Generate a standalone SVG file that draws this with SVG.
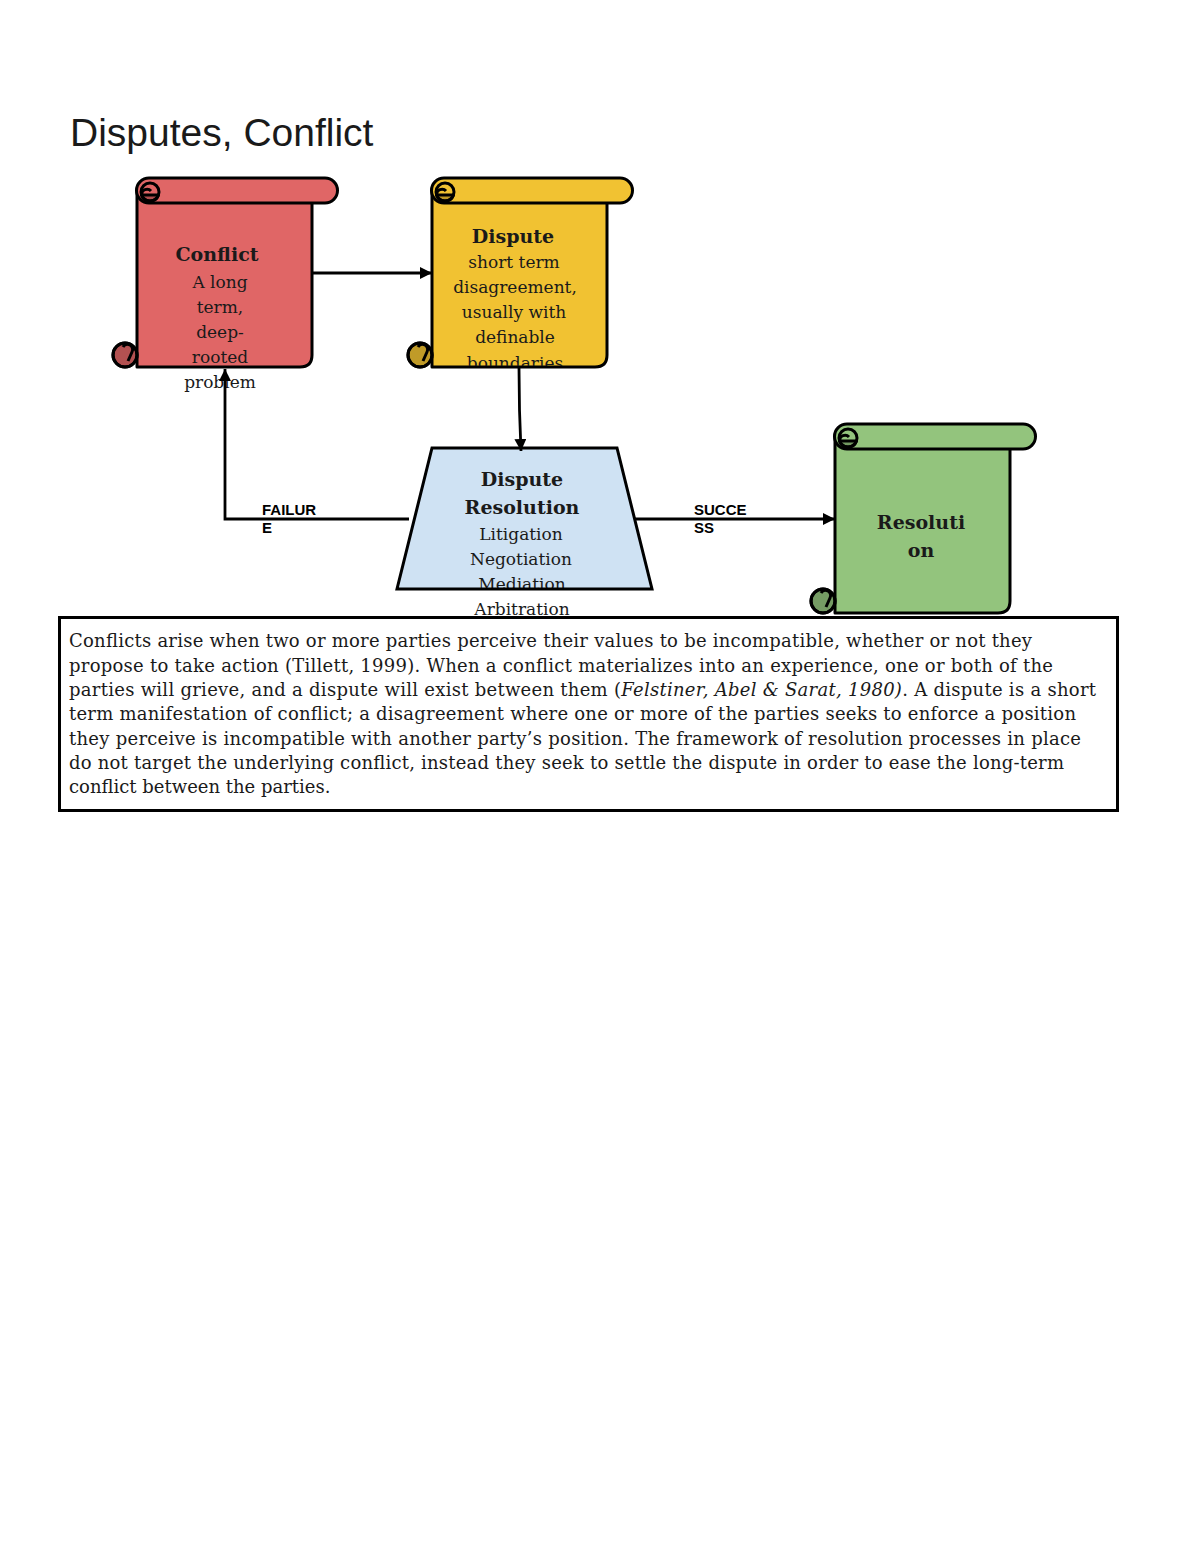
<svg xmlns="http://www.w3.org/2000/svg" xmlns:xlink="http://www.w3.org/1999/xlink" width="1200" height="1553" viewBox="0 0 1200 1553">
<style>
.ln{fill:none;stroke:#000;stroke-width:2.8}
.sc path,.sc circle{stroke:#000;stroke-width:3;stroke-linejoin:round}
.nt{font-family:"DejaVu Serif","Liberation Serif",serif;font-size:17px;fill:#1a1a1a;text-anchor:middle}
.nb{font-weight:bold;font-size:19px}
.lab{font-family:"Liberation Sans",Arial,sans-serif;font-weight:bold;font-size:15px;fill:#000}
.para{font-family:"DejaVu Serif","Liberation Serif",serif;font-size:18px;fill:#1a1a1a}
</style>
<defs>
<marker id="ah" markerUnits="userSpaceOnUse" markerWidth="13" markerHeight="12" refX="12" refY="6" orient="auto">
<path d="M0,0 L12,6 L0,12 Z" fill="#000"/>
</marker>
<g id="scroll" class="sc">
<path d="M0,12 V189 H163 Q175,189 175,177 V12 Z"/>
<circle cx="-12" cy="177" r="12"/>
<circle cx="-12" cy="177" r="12" fill="#000" fill-opacity="0.2" stroke="none"/>
<path d="M-14,169 A5,5 0 0 1 -5,174 L-9,183" fill="none" stroke-width="1.8"/>
<path d="M12,0 H188 A12.5,12.5 0 0 1 188,25 H12 A12.5,12.5 0 0 1 12,0 Z"/>
<circle cx="13" cy="14" r="9"/>
<path d="M4.5,17 A9,9 0 0 0 21.5,17 Z" fill="#000" fill-opacity="0.22" stroke="none"/>
<path d="M5,16 A5,4 0 0 1 14,13" fill="none" stroke-width="1.8"/>
</g>
<clipPath id="clipD"><rect x="430" y="170" width="180" height="196"/></clipPath>
</defs>

<text x="70" y="146" font-family="Liberation Sans, Arial, sans-serif" font-size="39" fill="#1a1a1a">Disputes, Conflict</text>

<g id="node-conflict">
<use xlink:href="#scroll" href="#scroll" x="137" y="178" fill="#e06666"/>
<text class="nt nb" x="217" y="261">Conflict</text>
<text class="nt" x="220" y="288">A long</text>
<text class="nt" x="220" y="313">term,</text>
<text class="nt" x="220" y="338">deep-</text>
<text class="nt" x="220" y="363">rooted</text>
<text class="nt" x="220" y="388">problem</text>
</g>

<g id="node-dispute">
<use xlink:href="#scroll" href="#scroll" x="432" y="178" fill="#f1c232"/>
<text class="nt nb" x="513" y="243">Dispute</text>
<text class="nt" x="514" y="268">short term</text>
<text class="nt" x="515" y="293">disagreement,</text>
<text class="nt" x="514" y="318">usually with</text>
<text class="nt" x="515" y="343">definable</text>
<text class="nt" x="515" y="369" clip-path="url(#clipD)">boundaries</text>
</g>

<g id="node-resolution">
<use xlink:href="#scroll" href="#scroll" x="835" y="424" fill="#93c47d"/>
<text class="nt nb" x="921" y="529">Resoluti</text>
<text class="nt nb" x="921" y="557">on</text>
</g>

<g id="node-dispute-resolution">
<polygon points="432,448 617,448 652,589 397,589" fill="#cfe2f3"/>
<text class="nt nb" x="522" y="486">Dispute</text>
<text class="nt nb" x="522" y="514">Resolution</text>
<text class="nt" x="521" y="540">Litigation</text>
<text class="nt" x="521" y="565">Negotiation</text>
<text class="nt" x="522" y="590">Mediation</text>
<text class="nt" x="522" y="615">Arbitration</text>
<polygon points="432,448 617,448 652,589 397,589" fill="none" stroke="#000" stroke-width="3" stroke-linejoin="miter"/>
</g>

<g id="connectors">
<path class="ln" d="M312,273 H432" marker-end="url(#ah)"/>
<path class="ln" d="M519,368 Q519,410 521,451" marker-end="url(#ah)"/>
<path class="ln" d="M409,519 H225 V369" marker-end="url(#ah)"/>
<path class="ln" d="M634,519 H835" marker-end="url(#ah)"/>
<text class="lab" x="262" y="515">FAILUR</text>
<text class="lab" x="262" y="533">E</text>
<text class="lab" x="694" y="515">SUCCE</text>
<text class="lab" x="694" y="533">SS</text>
</g>

<g id="textbox">
<rect x="59.5" y="617.5" width="1058" height="193" fill="#fff" stroke="#000" stroke-width="3"/>
<text class="para" x="69" y="647" textLength="963">Conflicts arise when two or more parties perceive their values to be incompatible, whether or not they</text>
<text class="para" x="69" y="672" textLength="984">propose to take action (Tillett, 1999). When a conflict materializes into an experience, one or both of the</text>
<text class="para" x="69" y="696" textLength="1027">parties will grieve, and a dispute will exist between them (<tspan font-style="italic">Felstiner, Abel &amp; Sarat, 1980)</tspan>. A dispute is a short</text>
<text class="para" x="69" y="720" textLength="1007">term manifestation of conflict; a disagreement where one or more of the parties seeks to enforce a position</text>
<text class="para" x="69" y="745" textLength="1012">they perceive is incompatible with another party’s position. The framework of resolution processes in place</text>
<text class="para" x="69" y="769" textLength="995">do not target the underlying conflict, instead they seek to settle the dispute in order to ease the long-term</text>
<text class="para" x="69" y="793">conflict between the parties.</text>
</g>
</svg>
